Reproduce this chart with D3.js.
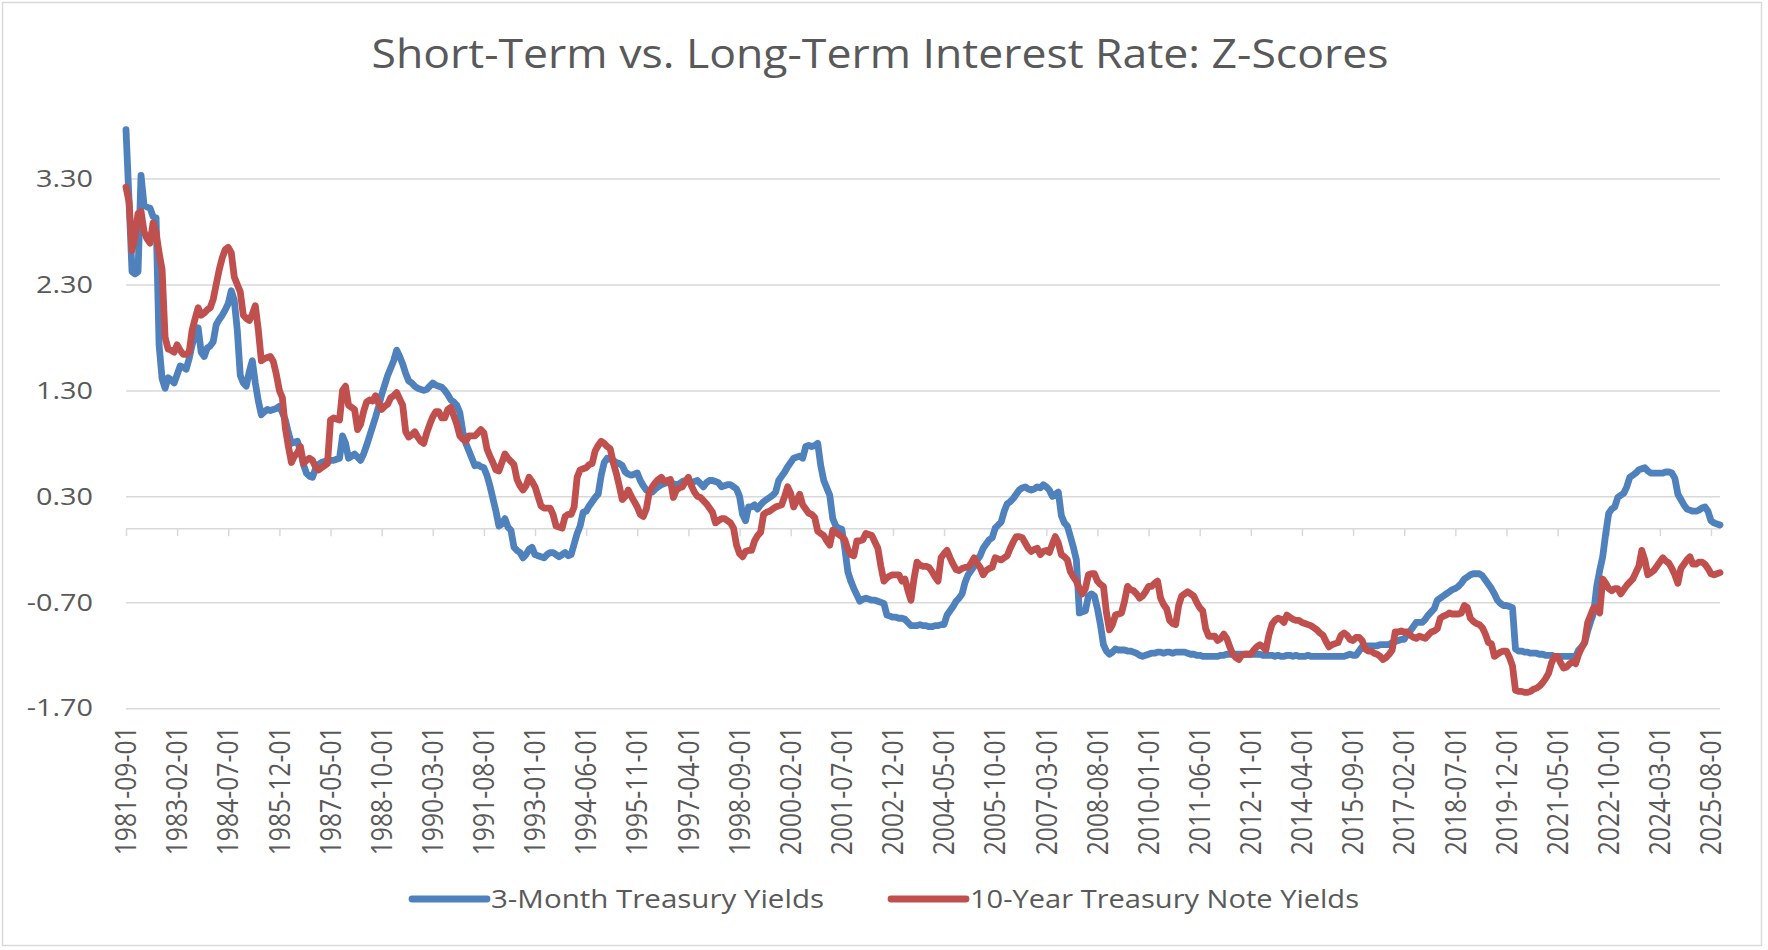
<!DOCTYPE html>
<html>
<head>
<meta charset="utf-8">
<script src="https://cdn.jsdelivr.net/npm/d3@7"></script>
<style>
  body { margin: 0; background: #fff; }
  text { font-family: "Open Sans", sans-serif; fill: #595959; }
</style>
</head>
<body>
<script>
const width = 1768;
const height = 950;

// monthly categories 1981-09-01 .. 2025-11-01
const months = d3.utcMonth.range(new Date(Date.UTC(1981, 8, 1)), new Date(Date.UTC(2025, 11, 1)));
const fmt = d3.utcFormat("%Y-%m-%d");
const categories = months.map(fmt);

const tickLabels = ["1981-09-01", "1983-02-01", "1984-07-01", "1985-12-01", "1987-05-01", "1988-10-01",
  "1990-03-01", "1991-08-01", "1993-01-01", "1994-06-01", "1995-11-01", "1997-04-01", "1998-09-01",
  "2000-02-01", "2001-07-01", "2002-12-01", "2004-05-01", "2005-10-01", "2007-03-01", "2008-08-01",
  "2010-01-01", "2011-06-01", "2012-11-01", "2014-04-01", "2015-09-01", "2017-02-01", "2018-07-01",
  "2019-12-01", "2021-05-01", "2022-10-01", "2024-03-01", "2025-08-01"];

const yTicks = [-1.70, -0.70, 0.30, 1.30, 2.30, 3.30];

const seriesNames = ["3-Month Treasury Yields", "10-Year Treasury Note Yields"];
const seriesColors = ["#4f81bd", "#c0504d"];

// z-scores, one per month
const threeMonth = [
  3.76, 3.10, 2.42, 2.40, 2.42, 3.33, 3.05, 3.03, 3.02, 2.94, 2.93, 1.73, 1.41, 1.32, 1.42, 1.40, 1.37,
  1.45, 1.53, 1.52, 1.50, 1.60, 1.73, 1.82, 1.89, 1.66, 1.62, 1.70, 1.72, 1.76, 1.92, 1.97, 2.01, 2.06,
  2.12, 2.24, 2.15, 1.87, 1.44, 1.37, 1.34, 1.48, 1.58, 1.37, 1.20, 1.07, 1.10, 1.12, 1.11, 1.12, 1.13,
  1.15, 1.09, 1.02, 0.90, 0.80, 0.81, 0.82, 0.73, 0.60, 0.52, 0.49, 0.48, 0.56, 0.60, 0.62, 0.63, 0.64,
  0.64, 0.64, 0.65, 0.66, 0.87, 0.80, 0.66, 0.68, 0.70, 0.67, 0.64, 0.70, 0.78, 0.87, 0.96, 1.05, 1.15,
  1.26, 1.35, 1.44, 1.51, 1.58, 1.68, 1.62, 1.55, 1.46, 1.39, 1.37, 1.34, 1.32, 1.31, 1.30, 1.31, 1.34,
  1.37, 1.35, 1.34, 1.33, 1.30, 1.26, 1.21, 1.19, 1.16, 1.09, 0.91, 0.80, 0.73, 0.66, 0.59, 0.60, 0.58,
  0.57, 0.50, 0.40, 0.28, 0.16, 0.02, 0.04, 0.09, 0.01, -0.02, -0.18, -0.21, -0.23, -0.28, -0.25, -0.20, -0.18,
  -0.25, -0.26, -0.27, -0.28, -0.25, -0.23, -0.23, -0.25, -0.27, -0.25, -0.23, -0.26, -0.25, -0.15, -0.05, 0.02, 0.15,
  0.16, 0.21, 0.25, 0.29, 0.32, 0.50, 0.62, 0.66, 0.65, 0.64, 0.62, 0.61, 0.59, 0.53, 0.51, 0.50, 0.51,
  0.52, 0.45, 0.40, 0.36, 0.35, 0.34, 0.37, 0.39, 0.41, 0.42, 0.43, 0.42, 0.42, 0.41, 0.42, 0.44, 0.45,
  0.44, 0.43, 0.44, 0.45, 0.42, 0.39, 0.43, 0.45, 0.45, 0.44, 0.43, 0.39, 0.40, 0.41, 0.41, 0.39, 0.37,
  0.30, 0.13, 0.07, 0.20, 0.20, 0.22, 0.18, 0.22, 0.25, 0.27, 0.29, 0.31, 0.34, 0.45, 0.49, 0.53, 0.58,
  0.62, 0.66, 0.67, 0.68, 0.66, 0.77, 0.78, 0.77, 0.78, 0.80, 0.59, 0.45, 0.38, 0.31, 0.09, 0.02, 0.00,
  -0.01, -0.19, -0.41, -0.50, -0.57, -0.63, -0.69, -0.67, -0.66, -0.67, -0.68, -0.68, -0.69, -0.70, -0.71, -0.82, -0.83,
  -0.84, -0.84, -0.85, -0.85, -0.86, -0.89, -0.92, -0.92, -0.92, -0.91, -0.92, -0.92, -0.93, -0.93, -0.92, -0.92, -0.91,
  -0.91, -0.82, -0.78, -0.74, -0.69, -0.66, -0.62, -0.51, -0.44, -0.40, -0.36, -0.30, -0.26, -0.19, -0.15, -0.11, -0.09,
  0.00, 0.03, 0.06, 0.16, 0.23, 0.25, 0.28, 0.32, 0.36, 0.38, 0.39, 0.37, 0.36, 0.37, 0.39, 0.38, 0.41,
  0.39, 0.36, 0.30, 0.32, 0.34, 0.12, 0.05, 0.02, -0.08, -0.18, -0.30, -0.80, -0.79, -0.78, -0.64, -0.62, -0.64,
  -0.76, -0.91, -1.10, -1.16, -1.19, -1.17, -1.14, -1.15, -1.15, -1.15, -1.16, -1.16, -1.17, -1.18, -1.20, -1.21, -1.20,
  -1.19, -1.18, -1.18, -1.17, -1.17, -1.18, -1.17, -1.17, -1.18, -1.17, -1.17, -1.17, -1.17, -1.18, -1.19, -1.19, -1.20,
  -1.20, -1.21, -1.21, -1.21, -1.21, -1.21, -1.21, -1.20, -1.20, -1.19, -1.19, -1.19, -1.19, -1.19, -1.19, -1.19, -1.19,
  -1.19, -1.19, -1.19, -1.19, -1.20, -1.20, -1.20, -1.20, -1.21, -1.20, -1.21, -1.21, -1.20, -1.20, -1.21, -1.20, -1.21,
  -1.21, -1.21, -1.20, -1.21, -1.21, -1.21, -1.21, -1.21, -1.21, -1.21, -1.21, -1.21, -1.21, -1.21, -1.21, -1.20, -1.19,
  -1.20, -1.20, -1.16, -1.12, -1.11, -1.11, -1.11, -1.11, -1.11, -1.10, -1.10, -1.10, -1.10, -1.08, -1.07, -1.06, -1.05,
  -1.05, -1.00, -0.97, -0.93, -0.89, -0.89, -0.89, -0.86, -0.82, -0.79, -0.76, -0.68, -0.66, -0.64, -0.62, -0.60, -0.58,
  -0.57, -0.55, -0.52, -0.48, -0.46, -0.44, -0.43, -0.43, -0.43, -0.45, -0.49, -0.53, -0.57, -0.62, -0.68, -0.71, -0.73,
  -0.73, -0.74, -0.75, -1.14, -1.16, -1.16, -1.17, -1.17, -1.18, -1.18, -1.18, -1.19, -1.19, -1.20, -1.20, -1.20, -1.21,
  -1.21, -1.21, -1.21, -1.21, -1.21, -1.21, -1.21, -1.15, -1.12, -1.08, -0.97, -0.88, -0.80, -0.55, -0.40, -0.27, -0.05,
  0.14, 0.18, 0.20, 0.29, 0.31, 0.33, 0.39, 0.48, 0.50, 0.52, 0.55, 0.56, 0.57, 0.54, 0.52, 0.52, 0.52,
  0.52, 0.52, 0.53, 0.53, 0.52, 0.47, 0.32, 0.27, 0.22, 0.18, 0.17, 0.16, 0.16, 0.17, 0.19, 0.20, 0.16,
  0.07, 0.05, 0.04, 0.03
];

const tenYear = [
  3.22, 3.08, 2.62, 2.75, 2.97, 2.99, 2.80, 2.73, 2.69, 2.88, 2.79, 2.60, 2.44, 1.80, 1.69, 1.68, 1.66,
  1.73, 1.68, 1.64, 1.64, 1.66, 1.87, 1.98, 2.08, 2.01, 2.03, 2.06, 2.08, 2.16, 2.30, 2.44, 2.55, 2.63,
  2.65, 2.60, 2.37, 2.30, 2.23, 2.01, 1.98, 1.96, 2.02, 2.10, 1.87, 1.58, 1.60, 1.61, 1.62, 1.57, 1.45,
  1.30, 1.23, 0.94, 0.77, 0.62, 0.68, 0.71, 0.77, 0.61, 0.64, 0.66, 0.64, 0.58, 0.55, 0.57, 0.59, 0.61,
  1.02, 1.04, 1.03, 1.02, 1.30, 1.34, 1.16, 1.14, 1.12, 0.93, 0.98, 1.10, 1.19, 1.21, 1.20, 1.25, 1.18,
  1.12, 1.15, 1.17, 1.23, 1.25, 1.28, 1.22, 1.16, 0.91, 0.86, 0.88, 0.91, 0.86, 0.82, 0.80, 0.90, 0.98,
  1.05, 1.10, 1.10, 1.04, 1.04, 1.12, 1.14, 1.06, 0.98, 0.87, 0.84, 0.82, 0.87, 0.87, 0.87, 0.90, 0.93,
  0.90, 0.75, 0.68, 0.62, 0.55, 0.54, 0.62, 0.70, 0.66, 0.63, 0.60, 0.46, 0.40, 0.36, 0.40, 0.48, 0.44,
  0.39, 0.30, 0.21, 0.19, 0.19, 0.19, 0.13, 0.02, 0.01, 0.00, 0.11, 0.13, 0.13, 0.20, 0.48, 0.55, 0.56,
  0.57, 0.60, 0.61, 0.73, 0.78, 0.82, 0.80, 0.77, 0.75, 0.62, 0.52, 0.40, 0.27, 0.30, 0.36, 0.30, 0.25,
  0.20, 0.13, 0.11, 0.18, 0.34, 0.39, 0.43, 0.46, 0.48, 0.44, 0.45, 0.46, 0.29, 0.36, 0.38, 0.39, 0.44,
  0.48, 0.40, 0.34, 0.30, 0.29, 0.26, 0.23, 0.19, 0.15, 0.05, 0.07, 0.09, 0.09, 0.07, 0.05, 0.00, -0.16,
  -0.24, -0.27, -0.22, -0.21, -0.21, -0.12, -0.07, -0.04, 0.13, 0.15, 0.16, 0.18, 0.20, 0.21, 0.22, 0.30, 0.39,
  0.33, 0.20, 0.26, 0.32, 0.22, 0.18, 0.14, 0.13, 0.10, -0.03, -0.05, -0.07, -0.12, -0.16, -0.02, -0.04, -0.06,
  -0.08, -0.11, -0.20, -0.25, -0.26, -0.12, -0.12, -0.11, -0.05, -0.06, -0.07, -0.13, -0.19, -0.36, -0.50, -0.47, -0.45,
  -0.44, -0.44, -0.44, -0.50, -0.48, -0.59, -0.68, -0.48, -0.32, -0.35, -0.36, -0.36, -0.37, -0.41, -0.46, -0.50, -0.28,
  -0.24, -0.21, -0.28, -0.34, -0.39, -0.40, -0.38, -0.37, -0.37, -0.33, -0.28, -0.33, -0.37, -0.44, -0.40, -0.38, -0.37,
  -0.28, -0.29, -0.30, -0.28, -0.26, -0.19, -0.13, -0.08, -0.08, -0.09, -0.14, -0.19, -0.22, -0.20, -0.19, -0.25, -0.22,
  -0.21, -0.23, -0.15, -0.08, -0.14, -0.25, -0.27, -0.30, -0.41, -0.46, -0.50, -0.57, -0.62, -0.57, -0.44, -0.43, -0.43,
  -0.50, -0.53, -0.55, -0.80, -0.96, -0.91, -0.82, -0.81, -0.80, -0.69, -0.55, -0.58, -0.59, -0.62, -0.66, -0.64, -0.60,
  -0.55, -0.55, -0.52, -0.50, -0.66, -0.72, -0.76, -0.87, -0.90, -0.91, -0.73, -0.64, -0.62, -0.60, -0.62, -0.64, -0.70,
  -0.75, -0.78, -0.95, -1.02, -1.02, -1.02, -1.06, -1.04, -1.00, -1.04, -1.12, -1.19, -1.22, -1.24, -1.20, -1.19, -1.19,
  -1.19, -1.15, -1.12, -1.10, -1.12, -1.15, -1.01, -0.91, -0.87, -0.85, -0.86, -0.89, -0.82, -0.84, -0.86, -0.87, -0.87,
  -0.89, -0.90, -0.91, -0.92, -0.94, -0.96, -0.99, -1.01, -1.07, -1.12, -1.10, -1.09, -1.08, -1.01, -0.99, -1.01, -1.05,
  -1.06, -1.03, -1.03, -1.06, -1.14, -1.16, -1.16, -1.18, -1.19, -1.21, -1.24, -1.22, -1.19, -1.15, -0.98, -0.98, -0.97,
  -0.98, -0.98, -1.01, -1.03, -1.04, -1.02, -1.03, -1.04, -1.01, -0.98, -0.97, -0.95, -0.85, -0.83, -0.82, -0.80, -0.81,
  -0.81, -0.81, -0.80, -0.73, -0.75, -0.85, -0.88, -0.90, -0.91, -0.94, -1.00, -1.08, -1.09, -1.21, -1.19, -1.17, -1.16,
  -1.16, -1.22, -1.30, -1.53, -1.54, -1.54, -1.55, -1.55, -1.54, -1.52, -1.51, -1.49, -1.46, -1.42, -1.37, -1.27, -1.21,
  -1.21, -1.27, -1.32, -1.31, -1.28, -1.26, -1.28, -1.19, -1.13, -1.08, -0.89, -0.82, -0.75, -0.75, -0.80, -0.48, -0.52,
  -0.57, -0.59, -0.57, -0.57, -0.62, -0.58, -0.54, -0.51, -0.48, -0.42, -0.36, -0.21, -0.30, -0.44, -0.42, -0.40, -0.36,
  -0.32, -0.28, -0.31, -0.33, -0.38, -0.44, -0.52, -0.38, -0.34, -0.30, -0.27, -0.34, -0.34, -0.32, -0.32, -0.34, -0.38,
  -0.43, -0.44, -0.43, -0.42
];

const plotLeft = 126, plotRight = 1720, plotTop = 125.5, plotBottom = 708.3;

let svg = d3.select("body")
    .append("svg")
    .attr("width", width)
    .attr("height", height);

svg.append("rect")
    .attr("x", 0).attr("y", 0)
    .attr("width", width).attr("height", height)
    .attr("fill", "#fff");

// chart border
svg.append("rect")
    .attr("x", 2.5).attr("y", 2.5)
    .attr("width", 1759).attr("height", 943)
    .attr("fill", "none")
    .attr("stroke", "#d9d9d9")
    .attr("stroke-width", 1.5);

var xScale = d3.scalePoint()
    .domain(categories)
    .range([plotLeft, plotRight]);

var yScale = d3.scaleLinear()
    .domain([-1.70, 3.80])
    .range([plotBottom, plotTop]);

// gridlines + y labels
var yAxis = d3.axisLeft(yScale)
    .tickValues(yTicks)
    .tickSize(-(plotRight - plotLeft))
    .tickPadding(33)
    .tickFormat(function(d) { return d.toFixed(2); });

let gy = svg.append("g")
    .attr("transform", "translate(" + plotLeft + ",0)")
    .call(yAxis);
gy.select(".domain").remove();
gy.selectAll("line").attr("stroke", "#d9d9d9").attr("stroke-width", 1.5);
gy.selectAll("text")
    .attr("fill", "#595959")
    .style("font-size", "24px")
    .attr("font-family", "Open Sans")
    .each(function() {
        // the original glyphs are drawn wider
        let len = this.getComputedTextLength();
        d3.select(this).attr("textLength", len * 1.2).attr("lengthAdjust", "spacingAndGlyphs");
    });

// category axis crossing at zero
var xAxis = d3.axisBottom(xScale)
    .tickValues(tickLabels)
    .tickSizeInner(8)
    .tickSizeOuter(0)
    .tickFormat("");

let gx = svg.append("g")
    .attr("transform", "translate(0," + yScale(0) + ")")
    .call(xAxis);
gx.select(".domain").attr("stroke", "#d9d9d9").attr("stroke-width", 1.5);
gx.selectAll("line").attr("stroke", "#d9d9d9").attr("stroke-width", 1.5);

// rotated date labels below the plot
svg.append("g")
    .selectAll("text")
    .data(tickLabels)
    .enter()
    .append("text")
    .attr("transform", function(d) {
        return "translate(" + xScale(d) + "," + (plotBottom + 18) + ") rotate(-90) scale(1.03,1.18)";
    })
    .attr("text-anchor", "end")
    .attr("dy", "0.36em")
    .style("font-size", "24px")
    .text(function(d) { return d; });

// lines
let line = d3.line()
    .x(function(d, i) { return xScale(categories[i]); })
    .y(function(d) { return yScale(d); });

[threeMonth, tenYear].forEach(function(values, k) {
    svg.append("path")
        .datum(values)
        .attr("fill", "none")
        .attr("stroke", seriesColors[k])
        .attr("stroke-width", 6.8)
        .attr("stroke-linejoin", "round")
        .attr("stroke-linecap", "round")
        .attr("d", line);
});

// title
svg.append("text")
    .attr("x", 880)
    .attr("y", 68)
    .attr("text-anchor", "middle")
    .attr("textLength", 1017)
    .attr("lengthAdjust", "spacingAndGlyphs")
    .style("font-size", "40px")
    .text("Short-Term vs. Long-Term Interest Rate: Z-Scores");

// legend
const legendX = [412, 891];
const legendTextLen = [333, 389];
seriesNames.forEach(function(name, k) {
    svg.append("line")
        .attr("x1", legendX[k]).attr("x2", legendX[k] + 75)
        .attr("y1", 899).attr("y2", 899)
        .attr("stroke", seriesColors[k])
        .attr("stroke-width", 6.8)
        .attr("stroke-linecap", "round");
    svg.append("text")
        .attr("x", legendX[k] + 79)
        .attr("y", 908)
        .attr("textLength", legendTextLen[k])
        .attr("lengthAdjust", "spacingAndGlyphs")
        .style("font-size", "25px")
        .text(name);
});
</script>
</body>
</html>
